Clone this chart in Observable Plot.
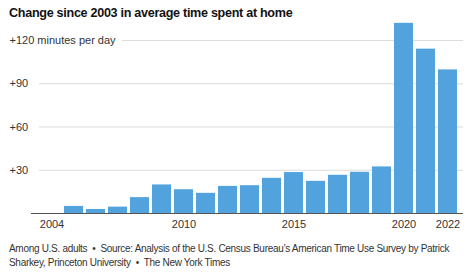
<!DOCTYPE html>
<html>
<head>
<meta charset="utf-8">
<script src="https://cdn.jsdelivr.net/npm/d3@7"></script>
<script src="https://cdn.jsdelivr.net/npm/@observablehq/plot@0.6"></script>
<style>
  html, body { margin: 0; padding: 0; background: #fff; }
  #wrap { position: relative; width: 474px; height: 276px; overflow: hidden; font-family: "Liberation Sans", Arial, sans-serif; }
  #title { position: absolute; left: 9px; top: 6px; font: bold 12.6px "Liberation Sans", Arial, sans-serif; color: #121212; letter-spacing: -0.3px; white-space: nowrap; }
  #chart { position: absolute; left: 0; top: 0; }
  #foot { position: absolute; left: 9px; top: 242px; width: 465px; font: 10px "Liberation Sans", Arial, sans-serif; letter-spacing: -0.3px; line-height: 14px; color: #333; white-space: nowrap; }
</style>
</head>
<body>
<div id="wrap">
  <div id="chart"></div>
  <div id="title">Change since 2003 in average time spent at home</div>
  <div id="foot">Among U.S. adults &nbsp;•&nbsp; Source: Analysis of the U.S. Census Bureau’s American Time Use Survey by Patrick<br>Sharkey, Princeton University &nbsp;•&nbsp; The New York Times</div>
</div>
<script>
const years = [2004,2005,2006,2007,2008,2009,2010,2011,2012,2013,2014,2015,2016,2017,2018,2019,2020,2021,2022];
const minutes = [0,4.9,2.8,4.4,11,19.8,16.5,14,18.8,19.3,24.4,28.4,22.3,26.5,28.6,32.3,131.9,114,99.6];
const yTicks = [30,60,90,120];
const yTickLabels = ["+30","+60","+90","+120 minutes per day"];
const xTicks = [2004,2010,2015,2020,2022];

const data = years.map((y,i) => ({year: y, value: minutes[i]}));
const ticks = yTicks.map((v,i) => ({value: v, label: yTickLabels[i]}));

const chart = Plot.plot({
  width: 474,
  height: 236,
  marginLeft: 33,
  marginRight: 8,
  marginTop: 40,
  marginBottom: 23,
  style: {fontFamily: "Liberation Sans, Arial, sans-serif", fontSize: "11px", color: "#333", background: "transparent"},
  x: {type: "band", domain: years, paddingInner: 0.15, paddingOuter: 0.15, axis: null},
  y: {domain: [0,120], axis: null},
  marks: [
    Plot.ruleY(yTicks.slice(0,3), {stroke: "#dcdcdc", strokeWidth: 1, insetLeft: 6, insetRight: 3}),
    Plot.ruleY([120], {stroke: "#dcdcdc", strokeWidth: 1, insetLeft: 89, insetRight: 3}),
    Plot.text(ticks, {y: "value", text: "label", frameAnchor: "left", textAnchor: "start", dx: -24, fill: "#333", fontSize: 11}),
    Plot.barY(data, {x: "year", y: "value", fill: "#52a3dd"}),
    Plot.ruleY([0], {stroke: "#555", strokeWidth: 1.2, insetLeft: -2, insetRight: 3}),
    Plot.axisX({ticks: xTicks, tickFormat: d => String(d), tickSize: 0, tickPadding: 7, fontSize: 11, fill: "#333", label: null})
  ]
});
document.getElementById("chart").appendChild(chart);
</script>
</body>
</html>
